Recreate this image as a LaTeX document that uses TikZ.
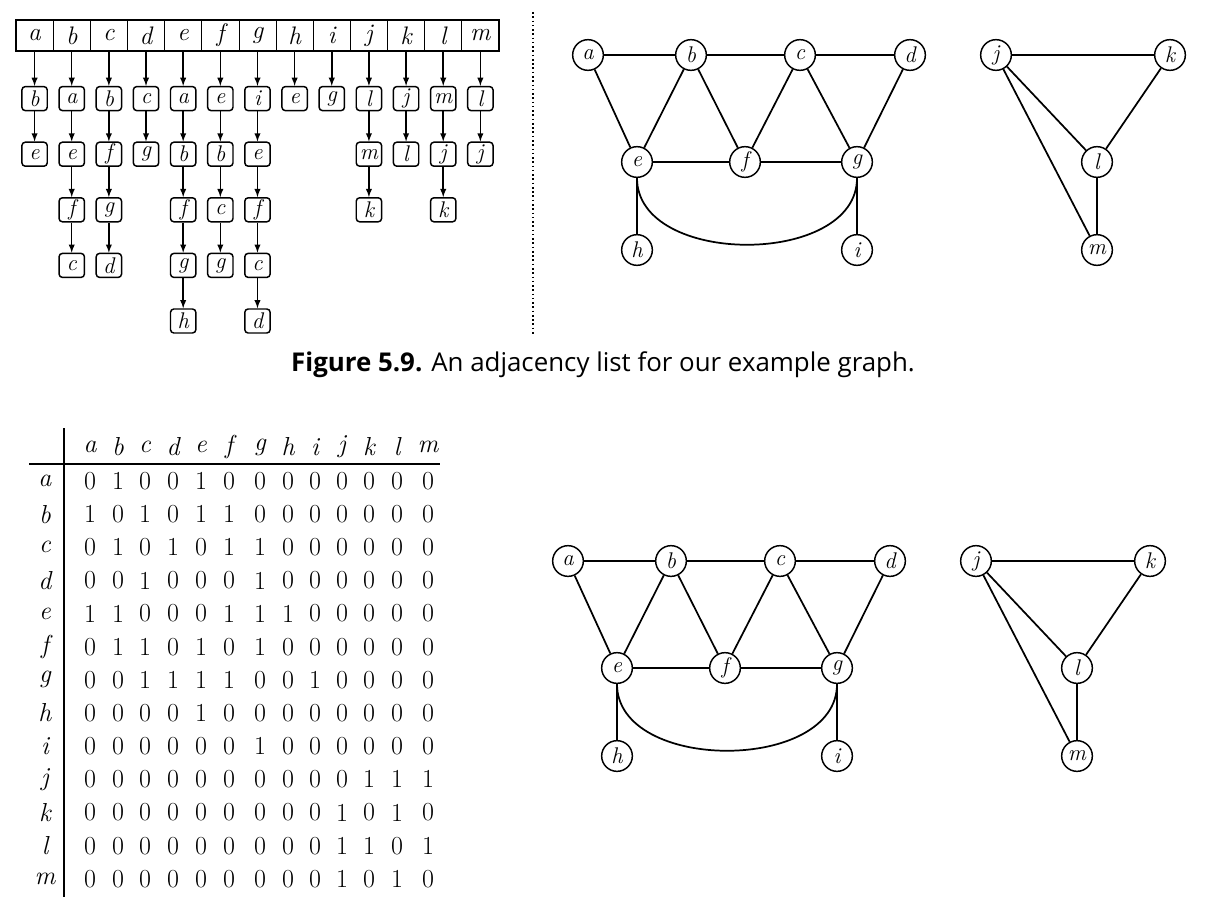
\documentclass[tikz,border=0pt]{standalone}
\usepackage{fontspec}
\newfontfamily\capfont{Open Sans}
\begin{document}
\begin{tikzpicture}[x=0.75pt,y=-0.75pt,
  lbox/.style={draw,line width=1.1pt,rounded corners=2.5pt,minimum width=19pt,minimum height=18pt,inner sep=0pt,font=\fontsize{17}{18}\selectfont\itshape},
  cell/.style={draw,line width=0.6pt,minimum width=27.86pt,minimum height=23.5pt,inner sep=0pt,font=\fontsize{19}{20}\selectfont\itshape},
  arr/.style={-latex,line width=1.1pt},
  vtx/.style={circle,draw,line width=1.1pt,fill=white,minimum size=23pt,inner sep=0pt,font=\fontsize{17}{18}\selectfont\itshape},
  edge/.style={line width=1.3pt},
  mtx/.style={font=\fontsize{19.5}{20}\selectfont,inner sep=0pt}]
\useasboundingbox (0,0) rectangle (1209,906);
% ---- adjacency list ----
\draw[line width=1.5pt] (16,20) rectangle (499,51);
\foreach \L [count=\i from 0] in {a,b,c,d,e,f,g,h,i,j,k,l,m}{
  \node[cell] (H\L) at ({16+37.15*(\i+0.5)},35.5) {\L};
}
\foreach \L/\lst [count=\i from 0] in {a/{b,e},b/{a,e,f,c},c/{b,f,g,d},d/{c,g},e/{a,b,f,g,h},f/{e,b,c,g},g/{i,e,f,c,d},h/{e},i/{g},j/{l,m,k},k/{j,l},l/{m,j,k},m/{l,j}}{
  \foreach \v [count=\r] in \lst {
    \node[lbox] (N\L\r) at ({16+37.15*(\i+0.5)},{43+55.6*\r}) {\v};
    \ifnum\r=1
      \draw[arr] (H\L.south) -- (N\L\r);
    \else
      \pgfmathtruncatemacro\pr{\r-1}
      \draw[arr] (N\L\pr) -- (N\L\r);
    \fi
  }
}
\draw[line width=1.2pt,dotted] (533,12) -- (533,335);
\node[font=\capfont\fontsize{19.4}{22}\selectfont,inner sep=0pt] (cap) at (603,365) {\textbf{Figure 5.9.} An adjacency list for our example graph.};
% ---- graphs ----
\newcommand\drawgraph[3]{%
\begin{scope}[shift={(#1,#2)},name prefix=#3]
\node[vtx] (a) at (588,55) {a};
\node[vtx] (b) at (691,55) {b};
\node[vtx] (c) at (800,55) {c};
\node[vtx] (d) at (910,55) {d};
\node[vtx] (e) at (637,162) {e};
\node[vtx] (f) at (745,162) {f};
\node[vtx] (g) at (857,162) {g};
\node[vtx] (h) at (637,250) {h};
\node[vtx] (i) at (857,250) {i};
\node[vtx] (j) at (996,55) {j};
\node[vtx] (k) at (1170,55) {k};
\node[vtx] (l) at (1097,162) {l};
\node[vtx] (m) at (1097,250) {m};
\draw[edge] (a)--(b) (b)--(c) (c)--(d) (a)--(e) (b)--(e) (b)--(f) (c)--(f) (c)--(g) (d)--(g)
  (e)--(f) (f)--(g) (e)--(h) (g)--(i) (j)--(k) (j)--(l) (j)--(m) (k)--(l) (l)--(m);
\draw[edge] (e) .. controls +(0,105) and +(0,105) .. (g);
\end{scope}}
\drawgraph{0}{0}{A}
\drawgraph{-20}{506}{B}
% ---- matrix ----
\draw[line width=1.2pt] (64,428) -- (64,897);
\draw[line width=1.2pt] (29,464) -- (440,464);
\def\colx{{90,118,145,173,201,229,260,288,315,342,369,397,428}}
\foreach \L [count=\i from 0] in {a,b,c,d,e,f,g,h,i,j,k,l,m}{
  \pgfmathsetmacro\cx{\colx[\i]}
  \node[mtx,font=\fontsize{19.5}{20}\selectfont\itshape] (C\L) at (\cx,447) {\L};
  \node[mtx,font=\fontsize{19.5}{20}\selectfont\itshape] (R\L) at (45,{481+33.15*\i}) {\L};
}
\foreach \row [count=\r from 0] in {
 {0,1,0,0,1,0,0,0,0,0,0,0,0},
 {1,0,1,0,1,1,0,0,0,0,0,0,0},
 {0,1,0,1,0,1,1,0,0,0,0,0,0},
 {0,0,1,0,0,0,1,0,0,0,0,0,0},
 {1,1,0,0,0,1,1,1,0,0,0,0,0},
 {0,1,1,0,1,0,1,0,0,0,0,0,0},
 {0,0,1,1,1,1,0,0,1,0,0,0,0},
 {0,0,0,0,1,0,0,0,0,0,0,0,0},
 {0,0,0,0,0,0,1,0,0,0,0,0,0},
 {0,0,0,0,0,0,0,0,0,0,1,1,1},
 {0,0,0,0,0,0,0,0,0,1,0,1,0},
 {0,0,0,0,0,0,0,0,0,1,1,0,1},
 {0,0,0,0,0,0,0,0,0,1,0,1,0}}{
  \foreach \v [count=\c from 0] in \row {
    \pgfmathsetmacro\cx{\colx[\c]}
    \node[mtx] (M\r-\c) at (\cx,{481+33.15*\r}) {\v};
  }
}
\end{tikzpicture}
\end{document}
